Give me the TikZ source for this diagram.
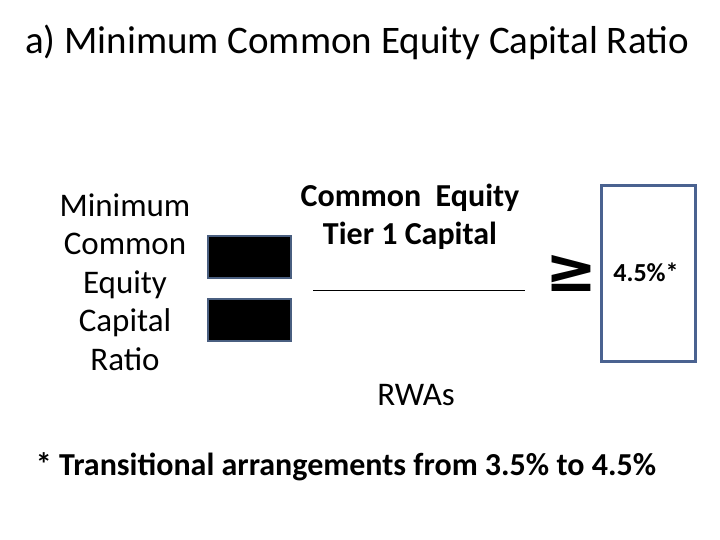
\documentclass[tikz,border=0pt]{standalone}
\usepackage{fontspec}
\setmainfont{Carlito}
\newfontfamily\dv{DejaVu Sans}
\definecolor{bord}{HTML}{4A6290}
\definecolor{eqb}{HTML}{4A5F80}
\begin{document}
\begin{tikzpicture}[x=1pt,y=-1pt,
  txt/.style={inner sep=0pt,align=center,font=\fontsize{33}{38.5}\selectfont},
  bar/.style={fill=black,draw=eqb,line width=2pt}]
\useasboundingbox (0,0) rectangle (720,540);
\node[inner sep=0pt,font=\fontsize{39}{44}\selectfont] (title) at (357,42) {a) Minimum Common Equity Capital Ratio};
\node[txt] (left) at (125,282) {Minimum\\Common\\Equity\\Capital\\Ratio};
\node[bar,minimum width=83pt,minimum height=42pt,inner sep=0pt] (b1) at (249.5,257) {};
\node[bar,minimum width=83pt,minimum height=42pt,inner sep=0pt] (b2) at (249.5,320) {};
\node[txt,font=\bfseries\fontsize{32}{38.5}\selectfont] (num) at (410,217) {Common~ Equity\\Tier 1 Capital};
\coordinate (l1) at (313,290); \coordinate (l2) at (525,290);
\draw[line width=0.8pt] (l1) -- (l2);
\node[txt] (den) at (416,395) {RWAs};
\node[inner sep=0pt,font=\dv\bfseries\fontsize{62}{62}\selectfont] (ge) at (571,273) {≥};
\node[draw=bord,line width=2.5pt,minimum width=94pt,minimum height=176pt,inner sep=0pt] (box) at (648.5,273.5) {};
\node[inner sep=0pt,font=\bfseries\fontsize{26}{30}\selectfont] (pct) at (646,272) {4.5\%*};
\node[inner sep=0pt,font=\bfseries\fontsize{32}{36}\selectfont] (foot) at (346,467) {* Transitional arrangements from 3.5\% to 4.5\%};
\end{tikzpicture}
\end{document}
